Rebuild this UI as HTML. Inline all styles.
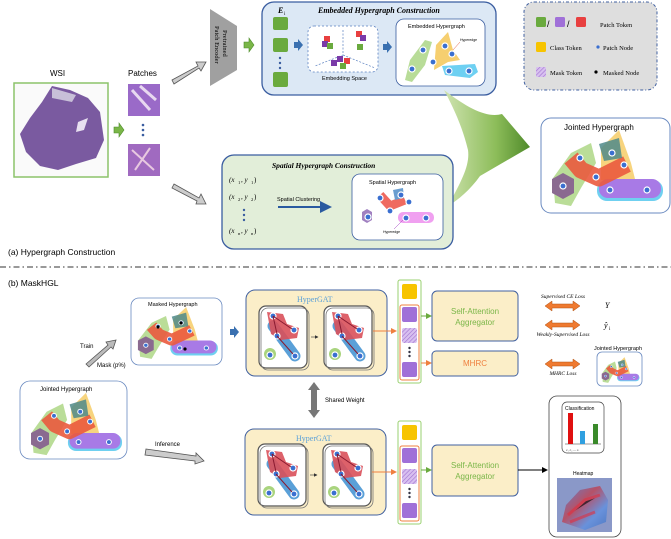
<!DOCTYPE html>
<html><head><meta charset="utf-8"><style>
html,body{margin:0;padding:0;background:#fff}
svg{display:block}
text{font-family:"Liberation Sans",sans-serif}
.ser{font-family:"Liberation Serif",serif}
</style></head><body>
<svg width="671" height="539" viewBox="0 0 671 539" xmlns="http://www.w3.org/2000/svg">
<defs>
<linearGradient id="bg" x1="0" y1="0" x2="1" y2="0"><stop offset="0" stop-color="#cfe3b0"/><stop offset="0.6" stop-color="#8dbd5a"/><stop offset="1" stop-color="#4f8a2a"/></linearGradient>
<linearGradient id="hm" x1="0" y1="0" x2="1" y2="1"><stop offset="0" stop-color="#5080d0"/><stop offset="0.4" stop-color="#c04050"/><stop offset="0.7" stop-color="#6090e0"/><stop offset="1" stop-color="#4070c0"/></linearGradient>
<pattern id="hatch" width="3" height="3" patternUnits="userSpaceOnUse" patternTransform="rotate(45)"><rect width="3" height="3" fill="#d8c0f0"/><line x1="0" y1="0" x2="0" y2="3" stroke="#a070d0" stroke-width="1.2"/></pattern>
<g id="nd"><circle r="3.6" fill="#fff"/><circle r="2.4" fill="#3a6fd0"/></g>
<g id="jh">
 <polygon points="14,85 12,60 30,35 50,25 55,45 40,70 30,88" fill="#a9d47e" opacity=".8"/>
 <polygon points="60,30 78,12 90,45 95,65 60,62" fill="#f6cf70" opacity=".9"/>
 <rect x="56" y="62" width="66" height="21" rx="10" fill="#6fd0f0"/>
 <rect x="58" y="61" width="62" height="19" rx="9" fill="#a87ae6"/>
 <path d="M30,40 L40,52 L58,60 L86,46" stroke="#ea5a3e" stroke-width="17" fill="none" stroke-linejoin="round" opacity=".9"/>
 <polygon points="58,26 78,20 81,40 63,43" fill="#4f8a8a" opacity=".85"/>
 <polygon points="22,55 33,61 33,75 22,81 11,75 11,61" fill="#8a6a90"/>
 <use href="#nd" x="39" y="40"/><use href="#nd" x="71" y="35"/><use href="#nd" x="83" y="47"/><use href="#nd" x="55" y="59"/><use href="#nd" x="22" y="68"/><use href="#nd" x="69" y="72"/><use href="#nd" x="106" y="72"/>
</g>
<g id="gat">
 <rect x="0" y="0" width="48" height="62" rx="7" fill="#fff" stroke="#555" stroke-width="1.2"/>
 <rect x="2" y="2" width="48" height="62" rx="7" fill="none" stroke="#777" stroke-width=".8"/>
 <path d="M14,20 L36,50" stroke="#5aa0d8" stroke-width="11" stroke-linecap="round"/>
 <polygon points="8,6 24,8 28,18 40,22 38,32 22,34 12,28" fill="#d9505a" opacity=".9"/>
 <circle cx="11" cy="48" r="6" fill="#a9d47e"/>
 <use href="#nd" x="14" y="10"/><use href="#nd" x="35" y="24"/><use href="#nd" x="18" y="30"/><use href="#nd" x="36" y="50"/><use href="#nd" x="11" y="49"/>
 <path d="M14,10 L33,23 M14,10 L18,28 M18,30 L34,48" stroke="#8a1a30" stroke-width="1"/>
</g>
<marker id="ar" markerWidth="6" markerHeight="6" refX="5" refY="3" orient="auto"><path d="M0,0 L6,3 L0,6z" fill="context-stroke"/></marker>
</defs>

<text x="50" y="76" font-size="8">WSI</text>
<rect x="14" y="83" width="94" height="94" fill="#fafafa" stroke="#8cc36a" stroke-width="1.5"/>
<polygon points="52,86 70,90 88,98 100,112 104,140 96,158 76,164 58,170 40,166 26,152 20,134 30,118 42,102" fill="#7a5aa0"/>
<polygon points="52,88 76,95 72,102 52,98" fill="#c8c0d8"/>
<polygon points="78,122 88,118 84,130 76,132" fill="#e8e0f0"/>
<text x="128" y="76" font-size="8">Patches</text>
<rect x="128" y="84" width="32" height="32" fill="#9a6ac8"/><path d="M132,90 L150,110 M140,86 L156,100" stroke="#e8d8f0" stroke-width="3"/>
<rect x="128" y="144" width="32" height="32" fill="#a06ac0"/><path d="M132,150 L154,170 M135,170 L150,148" stroke="#e8c8e0" stroke-width="2"/>
<circle cx="143" cy="125" r="1.3" fill="#3a5da0"/><circle cx="143" cy="130" r="1.3" fill="#3a5da0"/><circle cx="143" cy="135" r="1.3" fill="#3a5da0"/>
<polygon points="114,127 119,127 119,123 124,130 119,137 119,133 114,133" fill="#7ab648" stroke="#4a8a28" stroke-width=".6"/>
<polygon points="172,80 198,66 196,62 206,62 201,71 199,68 174,84" fill="#ccc" stroke="#555" stroke-width=".8"/>
<polygon points="174,184 199,198 201,194 206,204 196,204 197,201 172,188" fill="#ccc" stroke="#555" stroke-width=".8"/>
<polygon points="210,9 237,26 237,70 210,86" fill="#a0a0a0"/>
<text transform="translate(223,30) rotate(90)" font-size="6.5" class="ser">Pretrained</text>
<text transform="translate(215,26) rotate(90)" font-size="6.5" class="ser">Patch Encoder</text>
<polygon points="244,42 249,42 249,38 254,45 249,52 249,48 244,48" fill="#7ab648" stroke="#4a8a28" stroke-width=".6"/>

<rect x="262" y="2" width="234" height="93" rx="12" fill="#dce8f5" stroke="#3a5da0" stroke-width="1.3"/>
<text x="278" y="13" font-size="8" font-weight="bold" font-style="italic" class="ser">E</text><text x="284" y="15" font-size="5" class="ser">i</text>
<text x="318" y="13" font-size="8" font-weight="bold" font-style="italic" class="ser">Embedded Hypergraph Construction</text>
<rect x="273" y="17" width="15" height="13" rx="2" fill="#6aaa3e"/><rect x="273" y="38" width="15" height="14" rx="2" fill="#6aaa3e"/><rect x="273" y="72" width="15" height="15" rx="2" fill="#6aaa3e"/>
<circle cx="280" cy="58" r="1.2" fill="#3a5da0"/><circle cx="280" cy="63" r="1.2" fill="#3a5da0"/><circle cx="280" cy="68" r="1.2" fill="#3a5da0"/>
<polygon points="294,42 298,42 298,39 303,45 298,51 298,48 294,48" fill="#3a70b0"/>
<rect x="308" y="26" width="70" height="46" rx="6" fill="#fff" stroke="#5a80c0" stroke-dasharray="2,2" stroke-width=".8"/>
<path d="M343,30 L343,55 L315,66 M343,55 L375,68" stroke="#5a80c0" stroke-dasharray="2,1.5" stroke-width=".7" fill="none"/>
<rect x="324" y="36" width="6" height="6" fill="#e84040"/><rect x="322" y="41" width="6" height="6" fill="#7a3aa8"/><rect x="327" y="43" width="6" height="6" fill="#6aaa3e"/>
<rect x="356" y="31" width="6" height="6" fill="#e84040"/><rect x="360" y="35" width="6" height="6" fill="#7a3aa8"/><rect x="357" y="44" width="6" height="6" fill="#6aaa3e"/>
<rect x="337" y="56" width="6" height="6" fill="#7a3aa8"/><rect x="344" y="58" width="6" height="6" fill="#e84040"/><rect x="331" y="60" width="6" height="6" fill="#7a3aa8"/><rect x="340" y="63" width="6" height="6" fill="#6aaa3e"/>
<text x="322" y="80" font-size="5.5">Embedding Space</text>
<polygon points="383,44 387,44 387,41 392,47 387,53 387,50 383,50" fill="#3a70b0"/>
<rect x="396" y="19" width="89" height="67" rx="8" fill="#fff" stroke="#3a5da0" stroke-width=".8"/>
<text x="408" y="28" font-size="5.5">Embedded Hypergraph</text>
<polygon points="405,80 410,60 425,40 432,42 425,65 412,82" fill="#b8dc98"/>
<polygon points="436,45 448,32 453,50 460,60 448,62 434,70" fill="#f6cf70"/>
<polygon points="442,66 475,64 478,72 470,78 445,75" fill="#6ed0f2"/>
<use href="#nd" x="423" y="50"/><use href="#nd" x="445" y="46"/><use href="#nd" x="452" y="54"/><use href="#nd" x="433" y="62"/><use href="#nd" x="412" y="69"/><use href="#nd" x="449" y="71"/><use href="#nd" x="469" y="71"/>
<text x="460" y="41" font-size="3.5">Hyperedge</text><path d="M460,42 L453,50" stroke="#e06040" stroke-width=".5"/>

<rect x="524" y="2" width="133" height="88" rx="10" fill="#dedede" stroke="#4060a0" stroke-dasharray="3,2,1,2" stroke-width="1"/>
<rect x="536" y="17" width="10" height="10" rx="1.5" fill="#6aaa3e"/><text x="547" y="27" font-size="9">/</text><rect x="555" y="17" width="10" height="10" rx="1.5" fill="#a070d8"/><text x="567" y="27" font-size="9">/</text><rect x="576" y="17" width="10" height="10" rx="1.5" fill="#e84040"/>
<text x="600" y="27" font-size="6.5" class="ser">Patch Token</text>
<rect x="536" y="42" width="10" height="10" rx="1.5" fill="#f7c400"/><text x="550" y="50" font-size="6.5" class="ser">Class Token</text><circle cx="598" cy="47" r="1.6" fill="#3a6fd0"/><text x="603" y="50" font-size="6.5" class="ser">Patch Node</text>
<rect x="536" y="67" width="10" height="10" rx="1.5" fill="url(#hatch)"/><text x="550" y="75" font-size="6.5" class="ser">Mask Token</text><circle cx="596" cy="72" r="1.6" fill="#000"/><text x="603" y="75" font-size="6.5" class="ser">Masked Node</text>

<path d="M444,90 C470,110 488,118 502,114 L530,147 L480,176 C470,190 458,200 448,206 C462,180 470,165 468,150 C462,125 452,105 444,90 Z" fill="url(#bg)"/>

<rect x="541" y="118" width="129" height="95" rx="10" fill="#fff" stroke="#6a8ac0" stroke-width="1"/>
<text x="564" y="130" font-size="8">Jointed Hypergraph</text>
<use href="#jh" x="541" y="118"/>

<rect x="222" y="155" width="231" height="94" rx="12" fill="#e2eed9" stroke="#3a5da0" stroke-width="1.3"/>
<text x="272" y="168" font-size="7.5" font-weight="bold" font-style="italic" class="ser">Spatial Hypergraph Construction</text>
<text x="229" y="182" font-size="7" class="ser" font-style="italic">(x</text><text x="238" y="184" font-size="4.5" class="ser">1</text><text x="241" y="182" font-size="7" class="ser" font-style="italic">, y</text><text x="251" y="184" font-size="4.5" class="ser">1</text><text x="254" y="182" font-size="7" class="ser">)</text>
<text x="229" y="199" font-size="7" class="ser" font-style="italic">(x</text><text x="238" y="201" font-size="4.5" class="ser">2</text><text x="241" y="199" font-size="7" class="ser" font-style="italic">, y</text><text x="251" y="201" font-size="4.5" class="ser">2</text><text x="254" y="199" font-size="7" class="ser">)</text>
<circle cx="244" cy="210" r="1.2" fill="#3a5da0"/><circle cx="244" cy="215" r="1.2" fill="#3a5da0"/><circle cx="244" cy="220" r="1.2" fill="#3a5da0"/>
<text x="229" y="233" font-size="7" class="ser" font-style="italic">(x</text><text x="238" y="235" font-size="4.5" class="ser">n</text><text x="241" y="233" font-size="7" class="ser" font-style="italic">, y</text><text x="251" y="235" font-size="4.5" class="ser">n</text><text x="254" y="233" font-size="7" class="ser">)</text>
<text x="277" y="201" font-size="5.5">Spatial Clustering</text>
<path d="M278,207 L330,207" stroke="#2a5aa0" stroke-width="2" marker-end="url(#ar)"/>
<rect x="352" y="174" width="91" height="66" rx="8" fill="#fff" stroke="#3a5da0" stroke-width=".8"/>
<text x="369" y="184" font-size="5.5">Spatial Hypergraph</text>
<path d="M380,195 L390,206 L405,200" stroke="#ef6a60" stroke-width="9" fill="none" stroke-linejoin="round"/>
<polygon points="393,190 403,188 404,198 395,200" fill="#6a9ed0"/>
<rect x="398" y="212" width="36" height="11" rx="5" fill="#f0a0f0"/>
<polygon points="362,212 367,209 372,212 372,220 367,223 362,220" fill="#a080c0"/>
<use href="#nd" x="380" y="198"/><use href="#nd" x="401" y="195"/><use href="#nd" x="409" y="202"/><use href="#nd" x="390" y="211"/><use href="#nd" x="368" y="217"/><use href="#nd" x="406" y="218"/><use href="#nd" x="426" y="218"/>
<text x="383" y="233" font-size="3.5">Hyperedge</text><path d="M394,229 L403,220" stroke="#a040c0" stroke-width=".5"/>

<text x="8" y="255" font-size="8.5">(a) Hypergraph Construction</text>
<line x1="0" y1="267" x2="671" y2="267" stroke="#333" stroke-width="1" stroke-dasharray="6,3,1.5,3"/>

<text x="8" y="286" font-size="8.5">(b) MaskHGL</text>
<rect x="131" y="298" width="91" height="67" rx="8" fill="#fff" stroke="#6a8ac0" stroke-width=".8"/>
<text x="148" y="306" font-size="5.5">Masked Hypergraph</text>
<use href="#jh" transform="translate(130,299) scale(0.72,0.68)"/>
<circle cx="158" cy="327" r="1.6" fill="#000"/><circle cx="181" cy="323" r="1.6" fill="#000"/><circle cx="185" cy="349" r="1.6" fill="#000"/>
<polygon points="86,364 108,345 106,342 116,340 113,349 111,347 89,367" fill="#bbb" stroke="#555" stroke-width=".8"/>
<text x="80" y="348" font-size="6">Train</text>
<text x="97" y="367" font-size="6">Mask (p%)</text>
<rect x="20" y="381" width="107" height="78" rx="10" fill="#fff" stroke="#6a8ac0" stroke-width=".8"/>
<text x="40" y="391" font-size="6">Jointed Hypergraph</text>
<use href="#jh" transform="translate(22,383) scale(0.82)"/>
<text x="155" y="446" font-size="6">Inference</text>
<polygon points="146,449 196,456 196,453 204,461 195,464 195,461 145,455" fill="#ccc" stroke="#555" stroke-width=".8"/>
<polygon points="230,329 234,329 234,326 239,332 234,338 234,335 230,335" fill="#3a70b0"/>

<rect x="246" y="290" width="141" height="86" rx="9" fill="#fbeec8" stroke="#4060a0" stroke-width="1"/>
<text x="297" y="302" font-size="8" class="ser" fill="#5aa0d8">HyperGAT</text>
<use href="#gat" x="259" y="306"/><use href="#gat" x="324" y="306"/>
<path d="M311,337 L318,337" stroke="#333" stroke-width=".6" marker-end="url(#ar)"/>
<rect x="245" y="429" width="141" height="86" rx="9" fill="#fbeec8" stroke="#4060a0" stroke-width="1"/>
<text x="296" y="441" font-size="8" class="ser" fill="#5aa0d8">HyperGAT</text>
<use href="#gat" x="258" y="444"/><use href="#gat" x="323" y="444"/>
<path d="M310,475 L317,475" stroke="#333" stroke-width=".6" marker-end="url(#ar)"/>
<polygon points="314,382 320,390 317,390 317,410 320,410 314,418 308,410 311,410 311,390 308,390" fill="#777"/>
<text x="325" y="402" font-size="6">Shared Weight</text>

<g id="col">
<rect x="398" y="280" width="23" height="103" rx="2" fill="#fff" stroke="#9ad070" stroke-width="1"/>
<rect x="402" y="284" width="15" height="15" rx="2" fill="#f7c400"/>
<rect x="400" y="305" width="19" height="75" rx="2" fill="none" stroke="#ef8040" stroke-width="1"/>
<rect x="402" y="307" width="15" height="15" rx="2" fill="#a070d8"/>
<rect x="402" y="328" width="15" height="15" rx="2" fill="url(#hatch)"/>
<circle cx="409.5" cy="348" r="1.2" fill="#334"/><circle cx="409.5" cy="352" r="1.2" fill="#334"/><circle cx="409.5" cy="356" r="1.2" fill="#334"/>
<rect x="402" y="362" width="15" height="15" rx="2" fill="#a070d8"/>
</g>
<use href="#col" y="141"/>
<path d="M373,331 L396,331" stroke="#ef8040" stroke-width="1" marker-end="url(#ar)"/>
<path d="M372,472 L396,472" stroke="#ef8040" stroke-width="1" marker-end="url(#ar)"/>
<path d="M421,316 L431,316" stroke="#6aaa3e" stroke-width="1" marker-end="url(#ar)"/>
<path d="M421,363 L431,363" stroke="#ef8040" stroke-width="1" marker-end="url(#ar)"/>
<path d="M421,470 L431,470" stroke="#6aaa3e" stroke-width="1" marker-end="url(#ar)"/>

<rect x="432" y="291" width="86" height="50" rx="5" fill="#fbeec8" stroke="#4060a0" stroke-width="1"/>
<text x="475" y="314" font-size="8" fill="#7ab648" text-anchor="middle">Self-Attention</text>
<text x="475" y="325" font-size="8" fill="#7ab648" text-anchor="middle">Aggregator</text>
<rect x="432" y="351" width="86" height="25" rx="4" fill="#fbeec8" stroke="#4060a0" stroke-width="1"/>
<text x="475" y="366" font-size="8" fill="#ef8040" text-anchor="middle">MHRC</text>
<rect x="432" y="445" width="86" height="51" rx="5" fill="#fbeec8" stroke="#4060a0" stroke-width="1"/>
<text x="475" y="468" font-size="8" fill="#7ab648" text-anchor="middle">Self-Attention</text>
<text x="475" y="479" font-size="8" fill="#7ab648" text-anchor="middle">Aggregator</text>
<path d="M518,470 L547,470" stroke="#000" stroke-width="1" marker-end="url(#ar)"/>

<g id="dbl"><polygon points="545,306 552,301 552,304 573,304 573,301 580,306 573,311 573,308 552,308 552,311" fill="#ef7a30" stroke="#b05010" stroke-width=".5"/></g>
<use href="#dbl" y="19"/><use href="#dbl" y="58"/>
<text x="563" y="298" font-size="5.5" font-style="italic" class="ser" text-anchor="middle">Supervised CE Loss</text>
<text x="563" y="336" font-size="5.5" font-style="italic" class="ser" text-anchor="middle">Weakly-Supervised Loss</text>
<text x="563" y="375" font-size="5.5" font-style="italic" class="ser" text-anchor="middle">MHRC Loss</text>
<text x="605" y="308" font-size="8" font-style="italic" class="ser">Y</text>
<text x="604" y="328" font-size="8" font-style="italic" class="ser">ŷ</text><text x="609" y="330" font-size="5" class="ser">i</text>
<text x="594" y="350" font-size="5.5">Jointed Hypergraph</text>
<rect x="597" y="352" width="45" height="34" rx="5" fill="#fff" stroke="#6a8ac0" stroke-width=".8"/>
<use href="#jh" transform="translate(598,353) scale(0.34)"/>

<rect x="549" y="396" width="72" height="141" rx="8" fill="#fff" stroke="#444" stroke-width=".8"/>
<rect x="562" y="402" width="42" height="51" rx="5" fill="#fff" stroke="#444" stroke-width=".7"/>
<text x="565" y="410" font-size="5">Classification</text>
<line x1="565" y1="444" x2="601" y2="444" stroke="#333" stroke-width=".5"/>
<rect x="568" y="413" width="5" height="31" fill="#e01010"/><rect x="580" y="431" width="5" height="13" fill="#30a0e0"/><rect x="593" y="424" width="5" height="20" fill="#3a8a2a"/>
<text x="566" y="451" font-size="3.5" class="ser">c₁  c₂ ... cᵣ</text>
<text x="573" y="475" font-size="5">Heatmap</text>
<rect x="557" y="478" width="55" height="54" fill="#8a98c8"/>
<polygon points="562,522 566,505 580,490 600,486 608,500 606,522 585,530" fill="url(#hm)" opacity=".8"/>
<path d="M568,515 L585,500 L600,495 M570,522 L595,512" stroke="#e03040" stroke-width="3" opacity=".6"/>
</svg>
</body></html>
